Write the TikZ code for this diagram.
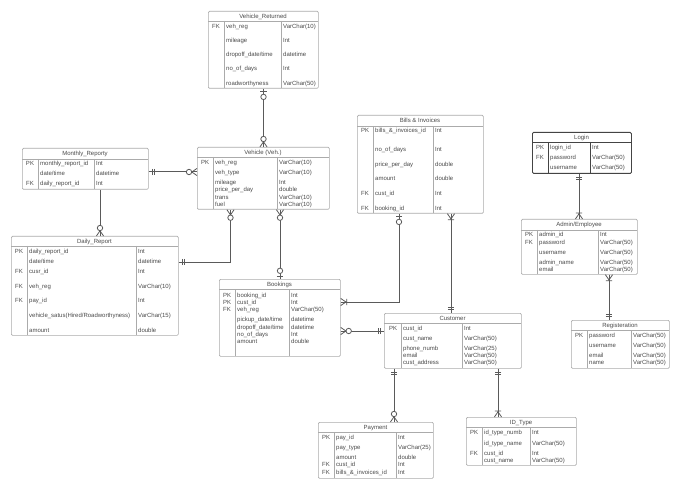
\documentclass[tikz,border=0pt]{standalone}
\usepackage{fontspec}
\setmainfont{Liberation Sans}
\definecolor{boxgray}{HTML}{ABABAB}
\definecolor{boxdark}{HTML}{444444}
\definecolor{linegray}{HTML}{5A5A5A}
\definecolor{txt}{HTML}{4A4A4A}
\tikzset{
  boxline/.style={draw=boxgray,line width=0.7pt},
  tbox/.style={boxline,fill=white,rounded corners=1.2pt,inner sep=0pt,anchor=north west},
  cell/.style={inner sep=0pt,text=txt,font=\fontsize{6}{7}\selectfont,text height=4.5pt,text depth=0.2pt},
  link/.style={draw=linegray,line width=1pt},
  mark line/.style={draw=linegray,line width=0.8pt},
}
\newcounter{rw}
% id x0 y0 x1 y1 headerY col1 col2 title
\newcommand{\tbl}[9]{%
  \def\tid{#1}\def\kx{#7-8}\def\nx{#7+2}\def\tx{#8+2}\setcounter{rw}{0}%
  \node[tbox,minimum width={(#4-#2)*1pt},minimum height={(#5-#3)*1pt}] (#1) at (#2,#3) {};
  \draw[boxline] (#2,#6) -- (#4,#6) (#7,#6) -- (#7,#5) (#8,#6) -- (#8,#5);
  \node[cell] (#1-title) at ({(#2+#4)/2},{(#3+#6)/2}) {#9};
}
\newcommand{\rw}[4]{%
  \stepcounter{rw}%
  \node[cell,anchor=center] (\tid-k\arabic{rw}) at ({\kx},#1) {#2};
  \node[cell,anchor=west] (\tid-n\arabic{rw}) at ({\nx},#1) {#3};
  \node[cell,anchor=west] (\tid-t\arabic{rw}) at ({\tx},#1) {#4};
}
% markers: local x axis points away from the entity; the angle is clockwise on the page
\newcommand{\mkoneopt}[2]{\begin{scope}[shift={#1},rotate=-#2]
  \draw[mark line] (3,-3.2) -- (3,3.2);
  \draw[mark line,fill=white] (8.2,0) circle (2.7);\end{scope}}
\newcommand{\mkmanyopt}[2]{\begin{scope}[shift={#1},rotate=-#2]
  \draw[mark line] (0,-3.6) -- (5.2,0) -- (0,3.6);
  \draw[mark line,fill=white] (8,0) circle (2.7);\end{scope}}
\newcommand{\mkone}[2]{\begin{scope}[shift={#1},rotate=-#2]
  \draw[mark line] (3.5,-3.2) -- (3.5,3.2) (5.8,-3.2) -- (5.8,3.2);\end{scope}}
\newcommand{\mkmany}[2]{\begin{scope}[shift={#1},rotate=-#2]
  \draw[mark line] (0,-3.6) -- (5.2,0) -- (0,3.6) (6,-3.2) -- (6,3.2);\end{scope}}
\begin{document}
\begin{tikzpicture}[x=1pt,y=-1pt]
\useasboundingbox (0,0) rectangle (680,489);
\fill[white] (0,0) rectangle (680,489);

\tbl{vr}{208}{11}{318}{88}{21}{224}{281}{Vehicle\_Returned}
\rw{26}{FK}{veh\_reg}{VarChar(10)}
\rw{40}{}{mileage}{Int}
\rw{54}{}{dropoff\_date/time}{datetime}
\rw{68}{}{no\_of\_days}{Int}
\rw{83}{}{roadworthyness}{VarChar(50)}

\tbl{veh}{197}{147}{329}{209}{157}{213}{277}{Vehicle (Veh.)}
\rw{162}{PK}{veh\_reg}{VarChar(10)}
\rw{172}{}{veh\_type}{VarChar(10)}
\rw{182}{}{mileage}{Int}
\rw{189}{}{price\_per\_day}{double}
\rw{197}{}{trans}{VarChar(10)}
\rw{204}{}{fuel}{VarChar(10)}

\tbl{mr}{22}{148}{148}{189}{159}{38}{94}{Monthly\_Reporty}
\rw{163.5}{PK}{monthly\_report\_id}{Int}
\rw{173.5}{}{date/time}{datetime}
\rw{183.5}{FK}{daily\_report\_id}{Int}

\tbl{dr}{11}{236}{178}{335}{246}{27}{136}{Daily\_Report}
\rw{251}{PK}{daily\_report\_id}{Int}
\rw{261}{}{date/time}{datetime}
\rw{271}{FK}{cusr\_id}{Int}
\rw{286}{FK}{veh\_reg}{VarChar(10)}
\rw{300}{FK}{pay\_id}{Int}
\rw{315}{}{vehicle\_satus(Hired/Roadworthyness)}{VarChar(15)}
\rw{330}{}{amount}{double}

\tbl{bk}{219}{279}{340}{356}{289}{235}{289}{Bookings}
\rw{295}{PK}{booking\_id}{Int}
\rw{302}{PK}{cust\_id}{Int}
\rw{309}{FK}{veh\_reg}{VarChar(50)}
\rw{319}{}{pickup\_date/time}{datetime}
\rw{327}{}{dropoff\_date/time}{datetime}
\rw{334}{}{no\_of\_days}{Int}
\rw{341}{}{amount}{double}

\tbl{bi}{357}{115}{483}{213}{126}{373}{433}{Bills \& Invoices}
\rw{130}{PK}{bills\_\&\_invoices\_id}{Int}
\rw{149}{}{no\_of\_days}{Int}
\rw{164}{}{price\_per\_day}{double}
\rw{178}{}{amount}{double}
\rw{193}{FK}{cust\_id}{Int}
\rw{208}{FK}{booking\_id}{Int}

\tbl{cu}{384}{313}{521}{368}{323}{401}{462}{Customer}
\rw{328}{PK}{cust\_id}{Int}
\rw{338}{}{cust\_name}{VarChar(50)}
\rw{348}{}{phone\_numb}{VarChar(25)}
\rw{355}{}{email}{VarChar(50)}
\rw{362}{}{cust\_address}{VarChar(50)}

\tbl{pa}{318}{422}{433}{478}{432}{334}{396}{Payment}
\rw{437}{PK}{pay\_id}{Int}
\rw{447}{}{pay\_type}{VarChar(25)}
\rw{457}{}{amount}{double}
\rw{464}{FK}{cust\_id}{Int}
\rw{472}{FK}{bills\_\&\_invoices\_id}{Int}

\tbl{id}{466}{417}{576}{465}{427}{482}{530}{ID\_Type}
\rw{432}{PK}{id\_type\_numb}{Int}
\rw{443}{}{id\_type\_name}{VarChar(50)}
\rw{453}{FK}{cust\_id}{Int}
\rw{460}{}{cust\_name}{VarChar(50)}

\tikzset{boxline/.style={draw=boxdark,line width=0.9pt}}
\tbl{lo}{532}{132}{631}{173}{142}{548}{590}{Login}
\rw{147}{PK}{login\_id}{Int}
\rw{157}{FK}{password}{VarChar(50)}
\rw{167}{}{username}{VarChar(50)}
\tikzset{boxline/.style={draw=boxgray,line width=0.7pt}}

\tbl{ad}{521}{219}{637}{274}{230}{537}{598}{Admin/Employee}
\rw{234}{PK}{admin\_id}{Int}
\rw{242}{FK}{password}{VarChar(50)}
\rw{252}{}{username}{VarChar(50)}
\rw{262}{}{admin\_name}{VarChar(50)}
\rw{269}{}{email}{VarChar(50)}

\tbl{re}{571}{320}{669}{368}{330}{587}{631}{Registeration}
\rw{335}{PK}{password}{VarChar(50)}
\rw{345}{}{username}{VarChar(50)}
\rw{355}{}{email}{VarChar(50)}
\rw{362}{}{name}{VarChar(50)}

% connectors
\draw[link] (vr.south -| 263.5,0) -- (veh.north -| 263.5,0);
\mkoneopt{(vr.south -| 263.5,0)}{90}
\mkmanyopt{(veh.north -| 263.5,0)}{270}

\draw[link] (mr.east |- 0,172) -- (veh.west |- 0,172);
\mkone{(mr.east |- 0,172)}{0}
\mkmanyopt{(veh.west |- 0,172)}{180}

\draw[link] (mr.south -| 100,0) -- (dr.north -| 100,0);
\mkmanyopt{(dr.north -| 100,0)}{270}

\draw[link] (dr.east |- 0,262) -| (veh.south -| 230.5,0);
\mkone{(dr.east |- 0,262)}{0}
\mkmanyopt{(veh.south -| 230.5,0)}{90}

\draw[link] (veh.south -| 280,0) -- (bk.north -| 280,0);
\mkmanyopt{(veh.south -| 280,0)}{90}
\mkoneopt{(bk.north -| 280,0)}{270}

\draw[link] (bi.south -| 399,0) |- (bk.east |- 0,302);
\mkoneopt{(bi.south -| 399,0)}{90}
\mkmany{(bk.east |- 0,302)}{0}

\draw[link] (bi.south -| 451,0) -- (cu.north -| 451,0);
\mkmany{(bi.south -| 451,0)}{90}
\mkone{(cu.north -| 451,0)}{270}

\draw[link] (bk.east |- 0,331) -- (cu.west |- 0,331);
\mkmanyopt{(bk.east |- 0,331)}{0}
\mkone{(cu.west |- 0,331)}{180}

\draw[link] (cu.south -| 394,0) -- (pa.north -| 394,0);
\mkone{(cu.south -| 394,0)}{90}
\mkmanyopt{(pa.north -| 394,0)}{270}

\draw[link] (cu.south -| 498,0) -- (id.north -| 498,0);
\mkone{(cu.south -| 498,0)}{90}
\mkmany{(id.north -| 498,0)}{270}

\draw[link] (lo.south -| 579,0) -- (ad.north -| 579,0);
\mkone{(lo.south -| 579,0)}{90}
\mkmany{(ad.north -| 579,0)}{270}

\draw[link] (ad.south -| 609,0) -- (re.north -| 609,0);
\mkmany{(ad.south -| 609,0)}{90}
\mkone{(re.north -| 609,0)}{270}
\end{tikzpicture}
\end{document}
